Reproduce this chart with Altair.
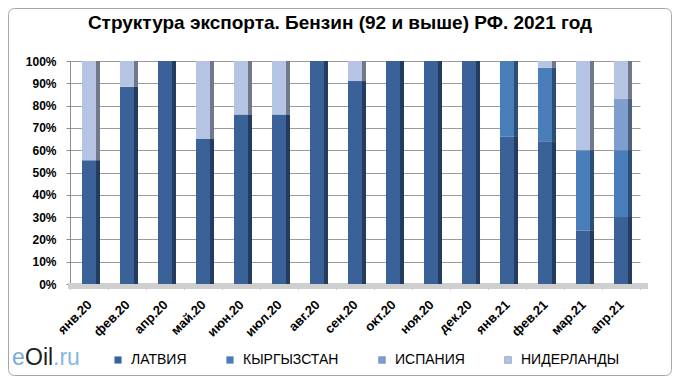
import altair as alt
import pandas as pd

months = ["янв.20", "фев.20", "апр.20", "май.20", "июн.20", "июл.20", "авг.20",
          "сен.20", "окт.20", "ноя.20", "дек.20", "янв.21", "фев.21", "мар.21", "апр.21"]
series = ["ЛАТВИЯ", "КЫРГЫЗСТАН", "ИСПАНИЯ", "НИДЕРЛАНДЫ"]
latvia = [55.5, 88.5, 100, 65, 76, 76, 100, 91, 100, 100, 100, 66, 64, 24, 30]
kyrgyzstan = [0, 0, 0, 0, 0, 0, 0, 0, 0, 0, 0, 34, 33, 36, 30]
spain = [0, 0, 0, 0, 0, 0, 0, 0, 0, 0, 0, 0, 0, 0, 23]
netherlands = [44.5, 11.5, 0, 35, 24, 24, 0, 9, 0, 0, 0, 0, 3, 40, 17]
colors = ["#3A6298", "#4A7EBB", "#7F9DCD", "#B5C4E2"]
title_text = "Структура экспорта. Бензин (92 и выше) РФ. 2021 год"

rows = []
for i, m in enumerate(months):
    for k, (s, vals) in enumerate(zip(series, [latvia, kyrgyzstan, spain, netherlands])):
        if vals[i] > 0:
            rows.append({"month": m, "country": s, "value": vals[i], "order": k})
df = pd.DataFrame(rows)

W, H = 570, 223
FONT = "Liberation Sans"

x_axis = alt.Axis(labelAngle=-45, labelFont=FONT, labelFontSize=13,
                  labelFontWeight="bold", labelColor="#000",
                  labelPadding=9, labelOffset=-4, tickBand="extent",
                  tickColor="#8c8c8c", tickSize=5, domainColor="#8c8c8c",
                  grid=False)
y_axis = alt.Axis(format=".0%", values=[i / 10 for i in range(11)], labelOverlap=False,
                  labelFont=FONT, labelFontSize=12, labelFontWeight="bold",
                  labelColor="#000", labelPadding=10, tickSize=4,
                  tickColor="#8c8c8c", domainColor="#8c8c8c",
                  gridColor="#9a9a9a", gridWidth=1)
y_scale = alt.Scale(domain=[0, 1], nice=False)

x_enc = alt.X("month:N", sort=months, title=None,
              scale=alt.Scale(paddingInner=0, paddingOuter=0), axis=x_axis)
y_enc = alt.Y("value:Q", stack="normalize", title=None, scale=y_scale, axis=y_axis)
color_enc = alt.Color("country:N", sort=series,
                      scale=alt.Scale(domain=series, range=colors),
                      legend=alt.Legend(title=None, orient="none", legendX=41, legendY=292,
                                        direction="horizontal", columns=4,
                                        symbolType="square", symbolSize=45,
                                        symbolStrokeColor="#5a7bb0", symbolStrokeWidth=0.5,
                                        labelFont=FONT, labelFontSize=14, labelColor="#000",
                                        columnPadding=36, labelOffset=6))
order_enc = alt.Order("order:Q", sort="ascending")

base = alt.Chart(df)

side = base.mark_bar(size=4, xOffset=9).encode(x=x_enc, y=y_enc, color=color_enc, order=order_enc)
side_shade = base.mark_bar(size=4, xOffset=9, color="#000", opacity=0.38).encode(
    x=x_enc, y=y_enc, detail="country:N", order=order_enc)
front = base.mark_bar(size=14).encode(x=x_enc, y=y_enc, color=color_enc, order=order_enc)

floor = alt.Chart(pd.DataFrame({"v": [0]})).mark_rule(
    color="#cfcfcf", strokeWidth=6, yOffset=2).encode(
    y=alt.Y("v:Q", scale=y_scale, axis=y_axis, title=None), x=alt.value(-2), x2=alt.value(W + 8))

one = pd.DataFrame({"a": [0]})
title = alt.Chart(one).mark_text(text=title_text, font=FONT, fontSize=19, fontWeight="bold",
                                 color="#000", align="center", baseline="middle").encode(
    x=alt.value(270), y=alt.value(-38))
logo_e = alt.Chart(one).mark_text(text="e", font=FONT, fontSize=23, color="#74ACDA",
                                  align="left", baseline="alphabetic").encode(
    x=alt.value(-58), y=alt.value(304))
logo_oil = alt.Chart(one).mark_text(text="Oil", font=FONT, fontSize=23, color="#1E1E1E",
                                    align="left", baseline="alphabetic").encode(
    x=alt.value(-45), y=alt.value(304))
logo_ru = alt.Chart(one).mark_text(text=".ru", font=FONT, fontSize=23, color="#86B8E0",
                                   align="left", baseline="alphabetic").encode(
    x=alt.value(-17), y=alt.value(304))
border = alt.Chart(one).mark_rect(fill=None, stroke="#a6a6a6", strokeWidth=1,
                                  cornerRadius=6).encode(
    x=alt.value(-61.5), x2=alt.value(601.5), y=alt.value(-52.5), y2=alt.value(314.5))

chart = alt.layer(floor, side, side_shade, front, border, title, logo_e, logo_oil, logo_ru).properties(
    width=W, height=H,
    autosize=alt.AutoSizeParams(type="none"),
    padding={"left": 62, "top": 53, "right": 32, "bottom": 92},
    background="white",
).configure_view(stroke=None)

chart.save("out.html", embed_options={"renderer": "svg", "actions": False})
